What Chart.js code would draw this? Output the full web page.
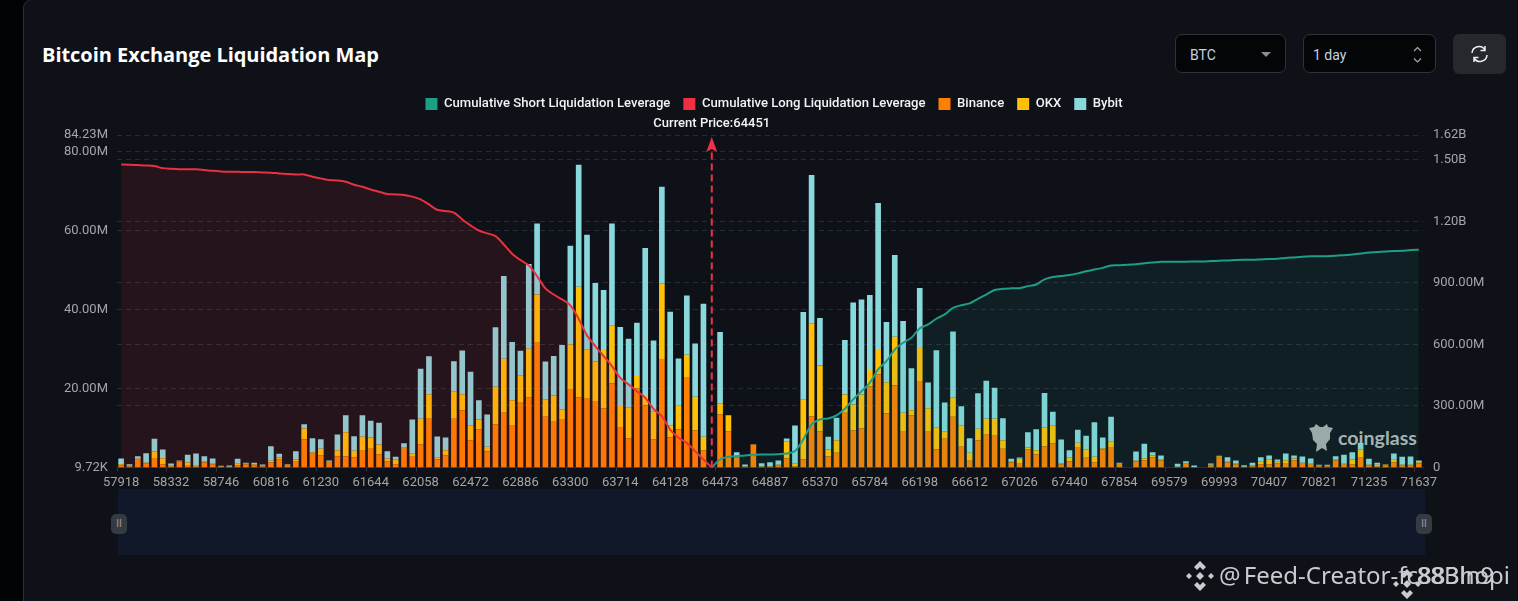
<!DOCTYPE html>
<html><head><meta charset="utf-8">
<style>
html,body{margin:0;padding:0;width:1518px;height:601px;overflow:hidden;background:#020304;font-family:Roboto,sans-serif}
#card{position:absolute;left:23px;top:-1px;width:1510px;height:620px;background:#0e1118;border:1px solid #2c2f34;border-radius:9px;box-sizing:border-box}
#title{position:absolute;left:42px;top:41px;color:#fff;font:700 20px "Open Sans",sans-serif;white-space:nowrap;letter-spacing:-.04px}
.ctl{position:absolute;top:34px;height:39px;box-sizing:border-box;background:#040507;border:1px solid #2f3237;border-radius:7px;color:#c3d3e2;font:14px/40px Roboto,sans-serif;padding-left:14px}
#refresh{position:absolute;left:1453px;top:34px;width:53px;height:40px;background:#25282c;border-radius:6px}
#slider{position:absolute;left:118px;top:489px;width:1307px;height:66px;background:#111829}
.hd{position:absolute;top:514px;width:16px;height:20px;background:#363b41;border-radius:5px;color:#9a9ea3;font:10px/20px Roboto;text-align:center}
#cg{position:absolute;left:1338px;top:426px;color:#b4b6b8;font:700 19.6px Lato,sans-serif}
canvas{position:absolute;left:0;top:0}
.wm{position:absolute;top:558px;color:#c9cbcd;font:24px/34px "Noto Sans",sans-serif;white-space:nowrap}
svg{position:absolute}
</style></head><body>
<div id="card"></div>
<div id="title">Bitcoin Exchange Liquidation Map</div>
<div class="ctl" style="left:1175px;width:111px">BTC</div>
<svg style="left:1261px;top:52px" width="11" height="6"><path d="M0 0H10L5 5Z" fill="#8a8d91"/></svg>
<div class="ctl" style="left:1303px;width:133px;padding-left:9px">1 day</div>
<svg style="left:1412px;top:46px" width="12" height="18" fill="none" stroke="#a8abae" stroke-width="1.2"><path d="M2 5L5.5 1.5L9 5M2 12.5L5.5 16L9 12.5"/></svg>
<div id="refresh"><svg style="left:17px;top:11px" width="19" height="18" fill="none" stroke="#eef0f2" stroke-width="1.5"><path d="M2 8A7 7 0 0 1 15 5M17 10A7 7 0 0 1 4 13M15 1V5.5H10.5M4 17V12.5H8.5"/></svg></div>
<div id="slider"></div>
<div class="hd" style="left:111px">II</div>
<div class="hd" style="left:1416px">II</div>
<svg style="left:1308px;top:424px" width="26" height="29" fill="#a9abad"><path d="M1 4L6 3L8 0L12 3H15L19 0L20 3L25 4L22 9L22 15L18 20L19 27L14 24L8 28L9 20L5 16L4 9Z"/></svg>
<div id="cg">coinglass</div>
<canvas id="c" width="1518" height="601"></canvas>
<svg style="left:1186px;top:561px" width="28" height="30" fill="#c9cbcd"><path d="M14 0L20 6L17 9L14 6L11 9L8 6ZM14 30L8 24L11 21L14 24L17 21L20 24ZM3 12L6 15L3 18L0 15ZM25 12L28 15L25 18L22 15ZM14 11L18 15L14 19L10 15Z"/></svg>
<div class="wm" style="left:1219px;word-spacing:-3px">@ Feed-Creator-fc883ln9</div>
<svg style="left:1393px;top:569px" width="28" height="30" fill="#c9cbcd"><path d="M14 0L20 6L17 9L14 6L11 9L8 6ZM14 30L8 24L11 21L14 24L17 21L20 24ZM3 12L6 15L3 18L0 15ZM25 12L28 15L25 18L22 15ZM14 11L18 15L14 19L10 15Z"/></svg>
<div class="wm" style="right:8px">88Bhopi</div>

<script src="https://cdn.jsdelivr.net/npm/chart.js@4"></script>
<script>
const tickLabels=["57918","58332","58746","60816","61230","61644","62058","62472","62886","63300","63714","64128","64473","64887","65370","65784","66198","66612","67026","67440","67854","69579","69993","70407","70821","71235","71637"];
const binance=[.51,.25,1.94,1.10,2.20,.85,.17,1.52,.42,.17,1.27,.85,.08,.08,.59,.76,.51,.25,1.27,2.11,.42,1.44,7.18,3.46,3.04,1.18,2.87,2.79,2.62,4.23,4.73,3.30,1.52,.85,4.73,2.70,
5.83,12.34,2.03,3.04,12.34,14.45,6.93,9.63,4.06,10.98,13.86,10.56,16.39,17.75,31.60,12.84,11.58,12.08,19.69,17.75,17.41,16.82,14.96,21.29,10.06,7.35,20.03,15.72,7.10,27.29,7.69,9.63,22.73,9.38,4.39,0,
13.44,9.21,2.45,.17,5.83,.17,.17,.59,2.28,.25,2.03,13.01,9.21,2.87,3.72,13.86,9.38,9.89,20.62,23.58,13.69,20.79,9.04,13.18,21.89,9.04,4.56,7.27,12.84,5.24,1.69,6.84,8.28,8.03,4.73,1.35,.93,4.56,3.30,
5.41,6.08,.76,1.52,4.99,2.45,1.35,4.56,4.99,.68,0,1.61,1.77,2.62,1.86,0,.17,.93,.08,0,.59,2.45,1.35,.76,.08,.34,.85,.85,1.01,.93,1.86,.93,.68,.34,.34,1.86,.68,.76,2.45,.51,.34,.59,1.35,.51,.59,1.01];
const okx=[.34,.34,.25,.08,1.94,1.52,.25,.17,.85,.25,.34,.25,.17,.08,.51,.34,.25,.34,.42,.42,.25,.59,2.70,.34,1.69,.25,1.52,6.17,1.61,3.55,2.87,2.54,.76,1.18,.34,.93,
6.51,6.25,.59,1.35,7.01,4.14,3.80,2.54,1.18,9.46,13.69,6.51,7.01,12.34,12.25,4.48,6.68,2.62,11.49,28.05,12.42,10.06,14.79,14.62,5.75,7.77,3.13,2.37,7.01,19.27,3.04,6.00,5.83,8.53,3.38,0,
2.87,4.06,.17,.08,0,.08,.08,.08,4.39,.85,15.13,23.41,16.65,1.69,3.21,4.65,6.59,8.62,4.06,6.42,7.94,12.34,4.82,1.35,8.62,6.00,5.49,1.94,4.99,5.49,2.03,2.96,4.06,4.31,2.20,.25,1.27,.51,1.10,
4.65,4.65,.25,.93,1.27,2.20,1.35,.25,1.69,.25,0,.08,.59,.42,.25,0,0,.17,0,0,.08,.42,.25,.25,.08,.17,.76,1.27,.59,.93,.42,.25,.25,.17,.25,.17,.25,1.27,2.03,.17,.34,.17,.76,.17,.08,.34];
const bybit=[1.44,.25,.68,2.45,3.13,2.20,.59,.08,1.94,3.13,1.27,1.18,.17,.34,1.10,.08,.42,.17,3.72,.93,.17,2.11,1.10,3.63,2.45,.34,3.97,4.31,3.72,5.49,4.23,5.49,1.86,.68,1.10,8.53,
12.67,9.63,5.24,3.21,7.60,11.07,13.52,4.90,8.20,15.13,20.96,14.70,6.17,21.46,18.00,9.55,9.97,16.31,25.01,30.93,29.15,19.86,15.21,25.94,19.77,17.49,13.52,37.52,18.08,24.59,28.73,12.00,15.04,13.52,33.72,0,
18.00,0,1.27,.51,.08,.85,1.10,1.10,.68,9.55,22.22,37.69,12.00,3.21,5.66,13.77,25.86,24.08,19.01,37.01,15.21,20.70,23.24,10.65,14.96,6.51,19.69,7.27,16.65,4.82,3.72,9.04,9.63,7.86,5.58,.59,.34,3.89,5.32,
8.79,3.38,6.08,1.94,3.30,3.38,8.79,2.79,6.17,.25,0,2.37,3.63,.85,.93,0,.76,.51,.42,0,.34,.08,1.01,.76,.42,.68,1.01,.93,.42,1.69,.76,1.61,1.35,.17,.08,.85,2.28,1.86,1.77,1.52,.51,0,1.44,2.03,2.11,.42];
// cumulative long leverage: one value per bar from the first bar up to the current-price bar
const longCumulative=[1477,1476,1474,1472,1469,1459,1456,1454,1454,1453,1450,1446,1443,1441,1441,1440,1440,1438,1437,1433,1430,1428,1428,1417,1409,1401,1399,1393,1378,1368,1355,1344,1333,1331,1328,1320,
1307,1282,1256,1250,1242,1209,1180,1155,1141,1128,1087,1042,1011,985,933,873,843,819,790,725,644,592,543,494,437,405,372,340,286,250,185,145,120,80,39,0];
// cumulative short leverage: one value per bar from the current-price bar to the last bar
const shortCumulative=[0,39,52,55,59,62,63,63,65,68,80,137,210,234,239,254,286,332,372,413,478,518,575,608,632,678,697,725,746,778,791,800,822,843,865,871,873,874,884,892,
917,928,933,938,946,956,965,973,985,986,988,991,996,999,1003,1003,1003,1003,1004,1004,1006,1008,1009,1011,1012,1012,1014,1016,1017,1021,1024,1027,1029,1030,1030,1032,1035,1038,1043,1048,1050,1053,1055,1056,1060,1061];
const leftTicks=[0.00972,20,40,60,80,84.23];
const rightTicks=[0,300,600,900,1200,1500,1620];
const currentPrice="64451";
const currentIndex=longCumulative.length-1;

const categories=binance.map((_,i)=>i%6===0?tickLabels[i/6]:"");
const shortSeries=categories.map((_,i)=>i<currentIndex?null:shortCumulative[i-currentIndex]);
const AX="#a3a5a8", GRID="#272c33";
const fmtL=v=>v<1?"9.72K":v.toFixed(2)+"M";
const fmtR=v=>v===0?"0":v>=1000?(v/1000).toFixed(2)+"B":v.toFixed(2)+"M";
const axisFont={family:"Roboto",size:13};

const currentPricePlugin={
  id:"currentPrice",
  afterLayout(chart){
    const t=chart.titleBlock, cx=chart.scales.x.getPixelForValue(currentIndex);
    t.left=cx-150;t.right=cx+150;t.top=116.5;t.bottom=131;
    const l=chart.legend; l.left=30; l.right=1518;
  },
  afterDatasetsDraw(chart){
    const ctx=chart.ctx,x=chart.scales.x.getPixelForValue(currentIndex),y=chart.scales.y;
    const yb=y.getPixelForValue(0), yt=y.getPixelForValue(84.23)+2;
    ctx.save();
    ctx.strokeStyle=ctx.fillStyle="#ec3246";
    ctx.lineWidth=2;ctx.setLineDash([7,4]);
    ctx.beginPath();ctx.moveTo(x,yb);ctx.lineTo(x,yt+10);ctx.stroke();
    ctx.setLineDash([]);
    ctx.beginPath();ctx.moveTo(x,yt);ctx.lineTo(x+5.5,yt+15);ctx.lineTo(x,yt+12);ctx.lineTo(x-5.5,yt+15);ctx.closePath();ctx.fill();
    ctx.restore();
  }
};

new Chart(document.getElementById("c"),{
  type:"bar",
  data:{labels:categories,datasets:[
    {type:"line",label:"Cumulative Short Liquidation Leverage",data:shortSeries,yAxisID:"y1",order:0,borderColor:"#1f9e87",backgroundColor:"#1f9e87",borderWidth:2,pointRadius:0,tension:.3,fill:{target:"origin",above:"rgba(31,158,135,0.1)"}},
    {type:"line",label:"Cumulative Long Liquidation Leverage",data:longCumulative,yAxisID:"y1",order:0,borderColor:"#e8323f",backgroundColor:"#ee3040",borderWidth:2,pointRadius:0,tension:.3,fill:{target:"origin",above:"rgba(238,48,64,0.11)"}},
    {label:"Binance",data:binance,backgroundColor:"#ff8000",stack:"s",order:1,barPercentage:.68,categoryPercentage:1},
    {label:"OKX",data:okx,backgroundColor:"#ffc107",stack:"s",order:1,barPercentage:.68,categoryPercentage:1},
    {label:"Bybit",data:bybit,backgroundColor:"#88d8dc",stack:"s",order:1,barPercentage:.68,categoryPercentage:1}
  ]},
  plugins:[currentPricePlugin],
  options:{
    responsive:false,animation:false,devicePixelRatio:1,
    layout:{padding:{top:84.5,left:0,right:0,bottom:0}},
    plugins:{
      tooltip:{enabled:false},
      legend:{display:true,position:"top",weight:1000,labels:{color:"#f2f3f4",boxWidth:12,boxHeight:12,padding:13,font:{family:"Roboto",size:13.1,weight:"500"},
        generateLabels(chart){return Chart.defaults.plugins.legend.labels.generateLabels(chart).map(i=>{i.lineWidth=0;return i;});}}},
      title:{display:true,text:"Current Price:"+currentPrice,position:"top",weight:500,color:"#f2f3f4",padding:0,font:{family:"Roboto",size:13,weight:"500",lineHeight:1.115}}
    },
    scales:{
      x:{stacked:true,
        afterFit(s){s.height=133.5;},
        grid:{display:true,drawOnChartArea:false,offset:true,tickLength:4,color:c=>c.index%6===0?"#30343a":"transparent"},
        border:{display:true,color:"#2d3138"},
        ticks:{color:AX,font:axisFont,autoSkip:false,maxRotation:0,minRotation:0,padding:3,callback(v){return this.getLabelForValue(v);}}},
      y:{stacked:true,position:"left",min:0,max:84.23,
        afterFit(s){s.width=117;},
        afterBuildTicks(s){s.ticks=leftTicks.map(v=>({value:v}));},
        grid:{color:GRID,drawTicks:false},
        border:{display:false,dash:[5,4]},
        ticks:{color:AX,font:axisFont,padding:9,callback:v=>fmtL(v)}},
      y1:{position:"right",min:0,max:1620,
        afterFit(s){s.width=95;},
        afterBuildTicks(s){s.ticks=rightTicks.map(v=>({value:v}));},
        grid:{color:GRID,drawTicks:false},
        border:{display:false,dash:[5,4]},
        ticks:{color:AX,font:axisFont,padding:10,callback:v=>fmtR(v)}}
    }
  }
});
</script>
</body></html>
